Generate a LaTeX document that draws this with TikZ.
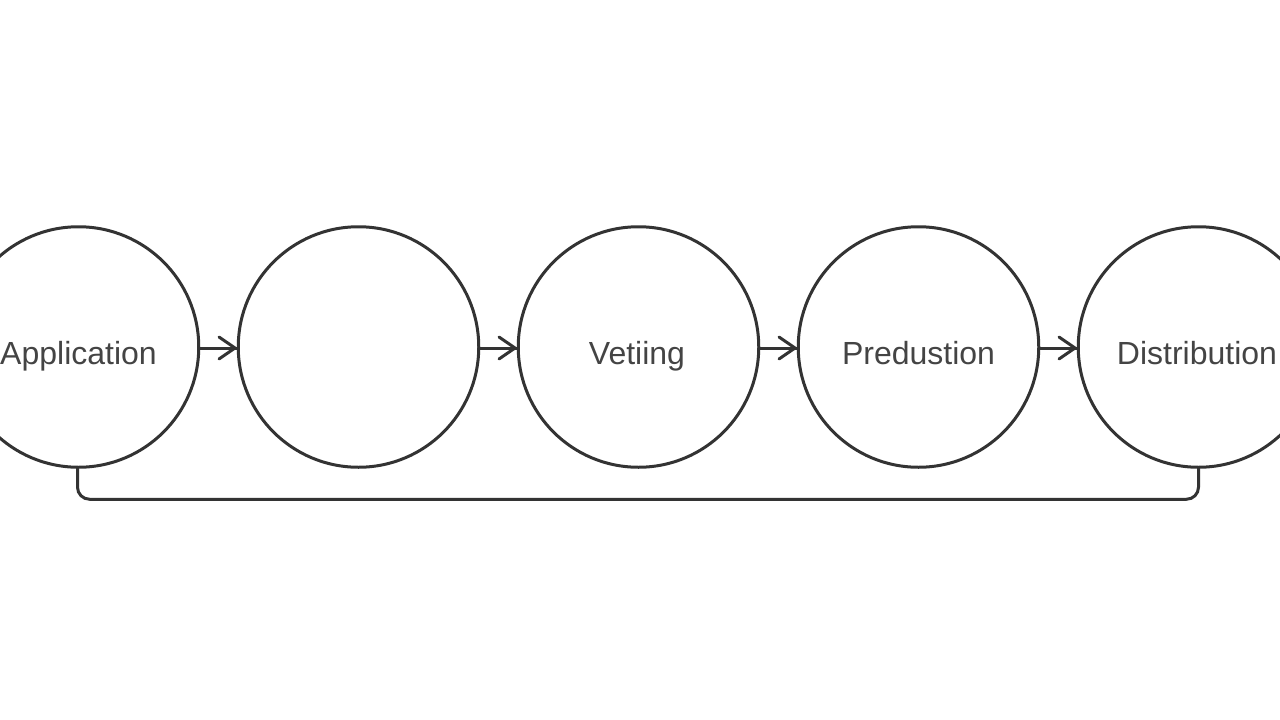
\documentclass[tikz,border=0pt]{standalone}
\usepackage{fontspec}
\usetikzlibrary{calc}
\setmainfont{Liberation Sans}
\definecolor{ink}{HTML}{333333}
\definecolor{txt}{HTML}{444444}
\tikzset{
  stage/.style={circle,draw=ink,line width=3pt,minimum size=240.5pt,inner sep=0pt,outer sep=0pt},
  lab/.style={text=txt,font=\fontsize{32}{34}\selectfont,anchor=base,inner sep=0pt},
  flow/.style={draw=ink,line width=3pt},
  head/.style={draw=ink,line width=3pt,line cap=round},
  loopline/.style={draw=ink,line width=3pt,rounded corners=12pt}
}
\begin{document}
\begin{tikzpicture}[x=1pt,y=-1pt]
\useasboundingbox (0,0) rectangle (1280,720);
\clip (0,0) rectangle (1280,720);
\node[stage] (a) at (78.5,347) {};
\node[stage] (b) at (358.5,347) {};
\node[stage] (c) at (638.5,347) {};
\node[stage] (d) at (918.5,347) {};
\node[stage] (e) at (1198.5,347) {};
\node[lab] (la) at (78.5,364.5) {Application};
\node[lab] (lc) at (637,364.5) {Vetiing};
\node[lab] (ld) at (918.5,364.5) {Predustion};
\node[lab] (le) at (1197,364.5) {Distribution};
\foreach \p/\q in {a/b,b/c,c/d,d/e}{
  \draw[flow] ($(\p.center)+(120,1)$) -- ($(\q.center)+(-122,1)$);
  \draw[head] ($(\q.center)+(-139.5,-10)$) -- ($(\q.center)+(-123.5,1)$) -- ($(\q.center)+(-139.5,12)$);
}
\draw[loopline] ($(a.south)+(-1,0)$) -- ++(0,32) -- ($(e.south)+(0,32)$) -- (e.south);
\end{tikzpicture}
\end{document}
